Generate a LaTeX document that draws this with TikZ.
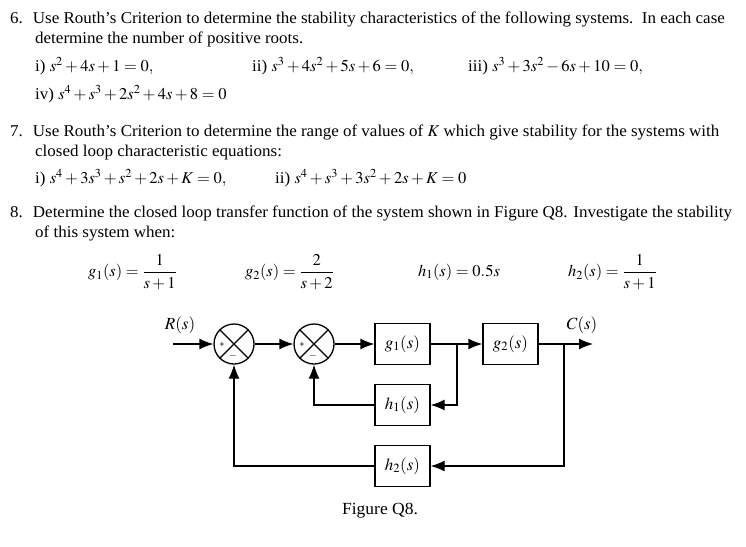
\documentclass[tikz,border=0pt]{standalone}
\usepackage{amsmath}
\usepackage{mathptmx}
\usepackage[no-math]{fontspec}
\setmainfont[FakeStretch=1.03]{Liberation Serif}
\usetikzlibrary{arrows.meta}
\begin{document}
\begin{tikzpicture}[x=1pt,y=-1pt,
  txt/.style={anchor=base west,inner sep=0pt,font=\fontsize{16.5}{18}\selectfont},
  blk/.style={draw,line width=1.3pt,minimum width=55pt,minimum height=41pt,font=\fontsize{17}{18}\selectfont},
  sumj/.style={draw,circle,line width=1.3pt,minimum size=40pt,inner sep=0pt},
  ln/.style={line width=1.3pt},
  arr/.style={line width=1.3pt,-{Latex[length=14pt,width=11pt]}},
  lab/.style={inner sep=0pt,font=\fontsize{17}{18}\selectfont}]
\useasboundingbox (0,0) rectangle (746,546);
\node[txt] (t1) at (10,23) {6.\hspace{10pt}Use Routh's Criterion to determine the stability characteristics of the following systems.\ \ In each case};
\node[txt] (t2) at (35,43) {determine the number of positive roots.};
\node[txt] (t3) at (35,71) {i) $s^2+4s+1=0,$};
\node[txt] (t4) at (252,71) {ii) $s^3+4s^2+5s+6=0,$};
\node[txt] (t5) at (468,71) {iii) $s^3+3s^2-6s+10=0,$};
\node[txt] (t6) at (35,99) {iv) $s^4+s^3+2s^2+4s+8=0$};
\node[txt] (t7) at (10,136) {7.\hspace{10pt}Use Routh's Criterion to determine the range of values of $K$ which give stability for the systems with};
\node[txt] (t8) at (35,156) {closed loop characteristic equations:};
\node[txt] (t9) at (35,183) {i) $s^4+3s^3+s^2+2s+K=0,$};
\node[txt] (t10) at (275,183) {ii) $s^4+s^3+3s^2+2s+K=0$};
\node[txt] (t11) at (10,217) {8.\hspace{10pt}Determine the closed loop transfer function of the system shown in Figure Q8. Investigate the stability};
\node[txt] (t12) at (35,237) {of this system when:};
\node[txt,anchor=west] (f1) at (88,272) {$g_1(s)=\dfrac{1}{s+1}$};
\node[txt,anchor=west] (f2) at (245,272) {$g_2(s)=\dfrac{2}{s+2}$};
\node[txt,anchor=west] (f3) at (418,272) {$h_1(s)=0.5s$};
\node[txt,anchor=west] (f4) at (568,272) {$h_2(s)=\dfrac{1}{s+1}$};

\node[sumj] (s1) at (234,344) {};
\node[sumj] (s2) at (314,344) {};
\foreach \s in {s1,s2}{
  \draw[ln] (\s.north west) -- (\s.south east) (\s.north east) -- (\s.south west);
  \node[inner sep=0pt,font=\small\bfseries] at ([xshift=-12pt,yshift=-1pt]\s.center) {+};
  \node[inner sep=0pt,font=\normalsize\bfseries] at ([xshift=-1pt,yshift=-12pt]\s.center) {$-$};
}
\node[blk] (g1) at (402.5,344) {$g_1(s)$};
\node[blk] (g2) at (510.5,344) {$g_2(s)$};
\node[blk] (h1) at (402.5,405) {$h_1(s)$};
\node[blk] (h2) at (402.5,466) {$h_2(s)$};
\coordinate (in) at (173,344);
\coordinate (out) at (593,344);
\coordinate (b1) at (457,344);
\coordinate (b2) at (564,344);
\node[lab] (R) at (180,325) {$R(s)$};
\node[lab] (C) at (582,325) {$C(s)$};
\node[lab,font=\fontsize{17}{18}\selectfont] (cap) at (380,511) {Figure Q8.};
\draw[arr] (in) -- (s1.west);
\draw[arr] (s1.east) -- (s2.west);
\draw[arr] (s2.east) -- (g1.west);
\draw[arr] (g1.east) -- (g2.west);
\draw[arr] (g2.east) -- (out);
\draw[arr] (b1) |- (h1.east);
\draw[arr] (b2) |- (h2.east);
\draw[arr] (h1.west) -| (s2.south);
\draw[arr] (h2.west) -| (s1.south);
\end{tikzpicture}
\end{document}
